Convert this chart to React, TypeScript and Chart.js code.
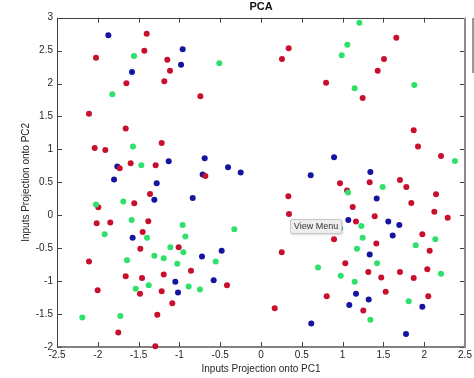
import React, { useEffect, useRef } from "react";
import { Chart, registerables } from "chart.js";

Chart.register(...registerables);

const titleText = "PCA";
const xTitle = "Inputs Projection onto PC1";
const yTitle = "Inputs Projection onto PC2";

const redX = [-1.401, -2.022, -1.430, -1.148, -1.115, -1.185, -1.650, -0.743, -2.108, -1.658, -2.038, -1.908, -1.217, -1.732, -1.597, -1.291, -0.682, -1.360, -1.994, -1.553, -2.014, -1.847, -1.381, -1.450, -1.479, -1.009, -2.108, -0.858, -1.658, -1.458, -1.192, -0.417, -2.002, -1.483, -1.217, -1.087, -1.271, -1.749, -1.295, 0.168, 1.658, 0.339, 0.257, 1.507, 1.430, 0.797, 1.246, 1.871, 1.924, 2.206, 1.703, 0.968, 1.332, 1.781, 2.145, 1.054, 0.335, 1.842, 1.124, 2.124, 0.343, 1.393, 2.288, 1.164, 1.977, 0.895, 1.413, 2.067, 0.254, 1.033, 2.038, 1.315, 1.703, 1.474, 1.871, 1.528, 0.805, 2.050, 1.254];
const redY = [2.757, 2.393, 2.499, 2.363, 2.196, 2.035, 2.005, 1.807, 1.543, 1.316, 1.023, 0.992, 1.099, 0.715, 0.791, 0.760, 0.598, 0.325, 0.123, 0.184, -0.120, -0.111, -0.090, -0.252, -0.510, -0.484, -0.703, -0.844, -0.924, -0.954, -0.900, -1.061, -1.137, -1.193, -1.152, -1.334, -1.511, -1.780, -1.990, -1.410, 2.697, 2.536, 2.373, 2.373, 2.196, 2.014, 1.781, 1.291, 1.043, 0.901, 0.537, 0.487, 0.502, 0.431, 0.320, 0.375, 0.290, 0.188, 0.127, 0.052, 0.021, -0.014, -0.039, -0.096, -0.287, -0.363, -0.429, -0.540, -0.560, -0.727, -0.818, -0.863, -0.863, -0.945, -0.954, -1.162, -1.228, -1.228, -1.446];

const greenX = [-1.556, -0.511, -1.822, -1.569, -1.467, -2.022, -1.687, -1.585, -1.916, -1.397, -0.960, -0.927, -0.327, -1.111, -0.952, -1.642, -1.307, -1.192, -1.026, -0.555, -1.536, -1.376, -0.887, -0.748, -2.190, -1.724, 1.205, 1.058, 0.989, 1.148, 1.879, 2.377, 1.491, 1.066, 1.229, 0.968, 2.136, 1.246, 1.896, 1.176, 1.422, 0.699, 2.206, 0.977, 1.148, 1.810, 1.340];
const greenY = [2.419, 2.308, 1.838, 1.043, 0.760, 0.162, 0.208, -0.070, -0.287, -0.343, -0.146, -0.323, -0.211, -0.484, -0.560, -0.681, -0.616, -0.651, -0.737, -0.703, -1.117, -1.061, -1.082, -1.127, -1.552, -1.531, 2.924, 2.590, 2.429, 1.929, 1.979, 0.825, 0.431, 0.346, -0.161, -0.202, -0.363, -0.343, -0.454, -0.510, -0.727, -0.794, -0.889, -0.920, -1.011, -1.304, -1.587];

const blueX = [-1.871, -0.960, -0.980, -1.581, -0.690, -1.131, -1.761, -0.404, -0.249, -0.715, -1.801, -1.278, -1.307, -0.837, -1.573, -0.482, -0.723, -1.050, -0.580, -1.017, 0.895, 0.609, 1.340, 1.418, 1.070, 1.560, 1.695, 1.614, 1.332, 1.164, 1.320, 1.082, 1.977, 0.616, 1.777];
const blueY = [2.733, 2.520, 2.287, 2.176, 0.866, 0.821, 0.739, 0.730, 0.648, 0.618, 0.542, 0.487, 0.234, 0.264, -0.343, -0.540, -0.627, -1.011, -0.985, -1.173, 0.882, 0.608, 0.658, 0.253, -0.070, -0.096, -0.146, -0.308, -0.596, -1.193, -1.279, -1.364, -1.390, -1.643, -1.804];

const xMin = -2.5;
const xMax = 2.5;
const yMin = -2;
const yMax = 3;
const tickStep = 0.5;

const RED = "#c8102e";
const GREEN = "#2fe06a";
const BLUE = "#1414a0";

const toPoints = (xs: number[], ys: number[]) => xs.map((x, i) => ({ x, y: ys[i] }));

const FONT = "'Liberation Sans', Arial, Helvetica, sans-serif";

const framePlugin = {
  id: "matlabFrame",
  beforeDatasetsDraw(chart: any) {
    const { ctx, chartArea } = chart;
    const { left, right, top, bottom } = chartArea;
    const xs = chart.scales.x;
    const ys = chart.scales.y;
    const tl = 5;
    ctx.save();
    // ticks
    ctx.strokeStyle = "#404040";
    ctx.lineWidth = 1;
    ctx.beginPath();
    xs.ticks.forEach((t: any) => {
      const p = Math.round(xs.getPixelForValue(t.value)) + 0.5;
      ctx.moveTo(p, bottom);
      ctx.lineTo(p, bottom - tl);
      ctx.moveTo(p, top);
      ctx.lineTo(p, top + tl);
    });
    ys.ticks.forEach((t: any) => {
      const p = Math.round(ys.getPixelForValue(t.value)) + 0.5;
      ctx.moveTo(left, p);
      ctx.lineTo(left + tl, p);
      ctx.moveTo(right, p);
      ctx.lineTo(right - tl, p);
    });
    ctx.stroke();
    // frame
    ctx.strokeStyle = "#404040";
    ctx.lineWidth = 1;
    ctx.beginPath();
    ctx.moveTo(Math.round(left) + 0.5, Math.round(bottom));
    ctx.lineTo(Math.round(left) + 0.5, Math.round(top) + 0.5);
    ctx.lineTo(Math.round(right), Math.round(top) + 0.5);
    ctx.stroke();
    ctx.strokeStyle = "#5a5a5a";
    ctx.lineWidth = 1.5;
    ctx.beginPath();
    ctx.moveTo(Math.round(left), Math.round(bottom));
    ctx.lineTo(Math.round(right), Math.round(bottom));
    ctx.stroke();
    ctx.strokeStyle = "#8c8c8c";
    ctx.lineWidth = 2;
    ctx.beginPath();
    ctx.moveTo(Math.round(right), Math.round(top));
    ctx.lineTo(Math.round(right), Math.round(bottom) + 1);
    ctx.stroke();
    ctx.restore();
  },
};

export default function App() {
  const canvasRef = useRef<HTMLCanvasElement | null>(null);

  useEffect(() => {
    document.body.style.margin = "0";
    const canvas = canvasRef.current;
    if (!canvas) return;
    const chart = new Chart(canvas, {
      type: "scatter",
      data: {
        datasets: [
          {
            label: "green",
            data: toPoints(greenX, greenY),
            backgroundColor: GREEN,
            borderColor: GREEN,
            pointRadius: 3,
            borderWidth: 0,
            clip: false as any,
          },
          {
            label: "red",
            data: toPoints(redX, redY),
            backgroundColor: RED,
            borderColor: RED,
            pointRadius: 3,
            borderWidth: 0,
            clip: false as any,
          },
          {
            label: "blue",
            data: toPoints(blueX, blueY),
            backgroundColor: BLUE,
            borderColor: BLUE,
            pointRadius: 3,
            borderWidth: 0,
            clip: false as any,
          },
        ],
      },
      options: {
        animation: false,
        responsive: false,
        devicePixelRatio: 1,
        layout: { padding: { left: 0, right: 9, top: 0, bottom: 0 } },
        plugins: {
          legend: { display: false },
          tooltip: { enabled: false },
          title: {
            display: true,
            text: titleText,
            fullSize: false,
            color: "#111",
            font: { family: FONT, size: 11, weight: "bold" },
            padding: { top: 0, bottom: 4.5 },
          },
        },
        scales: {
          x: {
            type: "linear",
            min: xMin,
            max: xMax,
            border: { display: false },
            grid: { display: false, drawTicks: false },
            ticks: {
              stepSize: tickStep,
              color: "#262626",
              font: { family: FONT, size: 10 },
              padding: 2,
              maxRotation: 0,
              autoSkip: false,
              callback: (v: any) => String(Number(v)),
            },
            title: {
              display: true,
              text: xTitle,
              color: "#262626",
              font: { family: FONT, size: 10 },
              padding: { top: 0, bottom: 3 },
            },
            afterFit: (scale: any) => {
              scale.height = 31;
            },
          },
          y: {
            type: "linear",
            min: yMin,
            max: yMax,
            border: { display: false },
            grid: { display: false, drawTicks: false },
            ticks: {
              stepSize: tickStep,
              color: "#262626",
              font: { family: FONT, size: 10 },
              padding: 4,
              autoSkip: false,
              callback: (v: any) => String(Number(v)),
            },
            title: {
              display: true,
              text: yTitle,
              color: "#262626",
              font: { family: FONT, size: 10 },
              padding: { top: 20, bottom: 0 },
            },
            afterFit: (scale: any) => {
              scale.width = 57;
            },
          },
        },
      },
      plugins: [framePlugin],
    });
    return () => chart.destroy();
  }, []);

  return (
    <div style={{ position: "relative", width: 474, height: 378, background: "#fff", overflow: "hidden" }}>
      <canvas ref={canvasRef} width={474} height={378} style={{ display: "block" }} />
      <div
        style={{
          position: "absolute",
          left: 290,
          top: 219,
          width: 50,
          height: 13,
          background: "#eeeeee",
          border: "1px solid #c8c8c8",
          borderRadius: 2,
          boxShadow: "1px 1px 2px rgba(0,0,0,0.15)",
          fontFamily: FONT,
          fontSize: 9,
          lineHeight: "13px",
          color: "#333",
          textAlign: "center",
          whiteSpace: "nowrap",
        }}
      >
        View Menu
      </div>
      <div
        style={{
          position: "absolute",
          left: 472,
          top: 18,
          width: 2,
          height: 55,
          background: "#9a9a9a",
        }}
      />
    </div>
  );
}
